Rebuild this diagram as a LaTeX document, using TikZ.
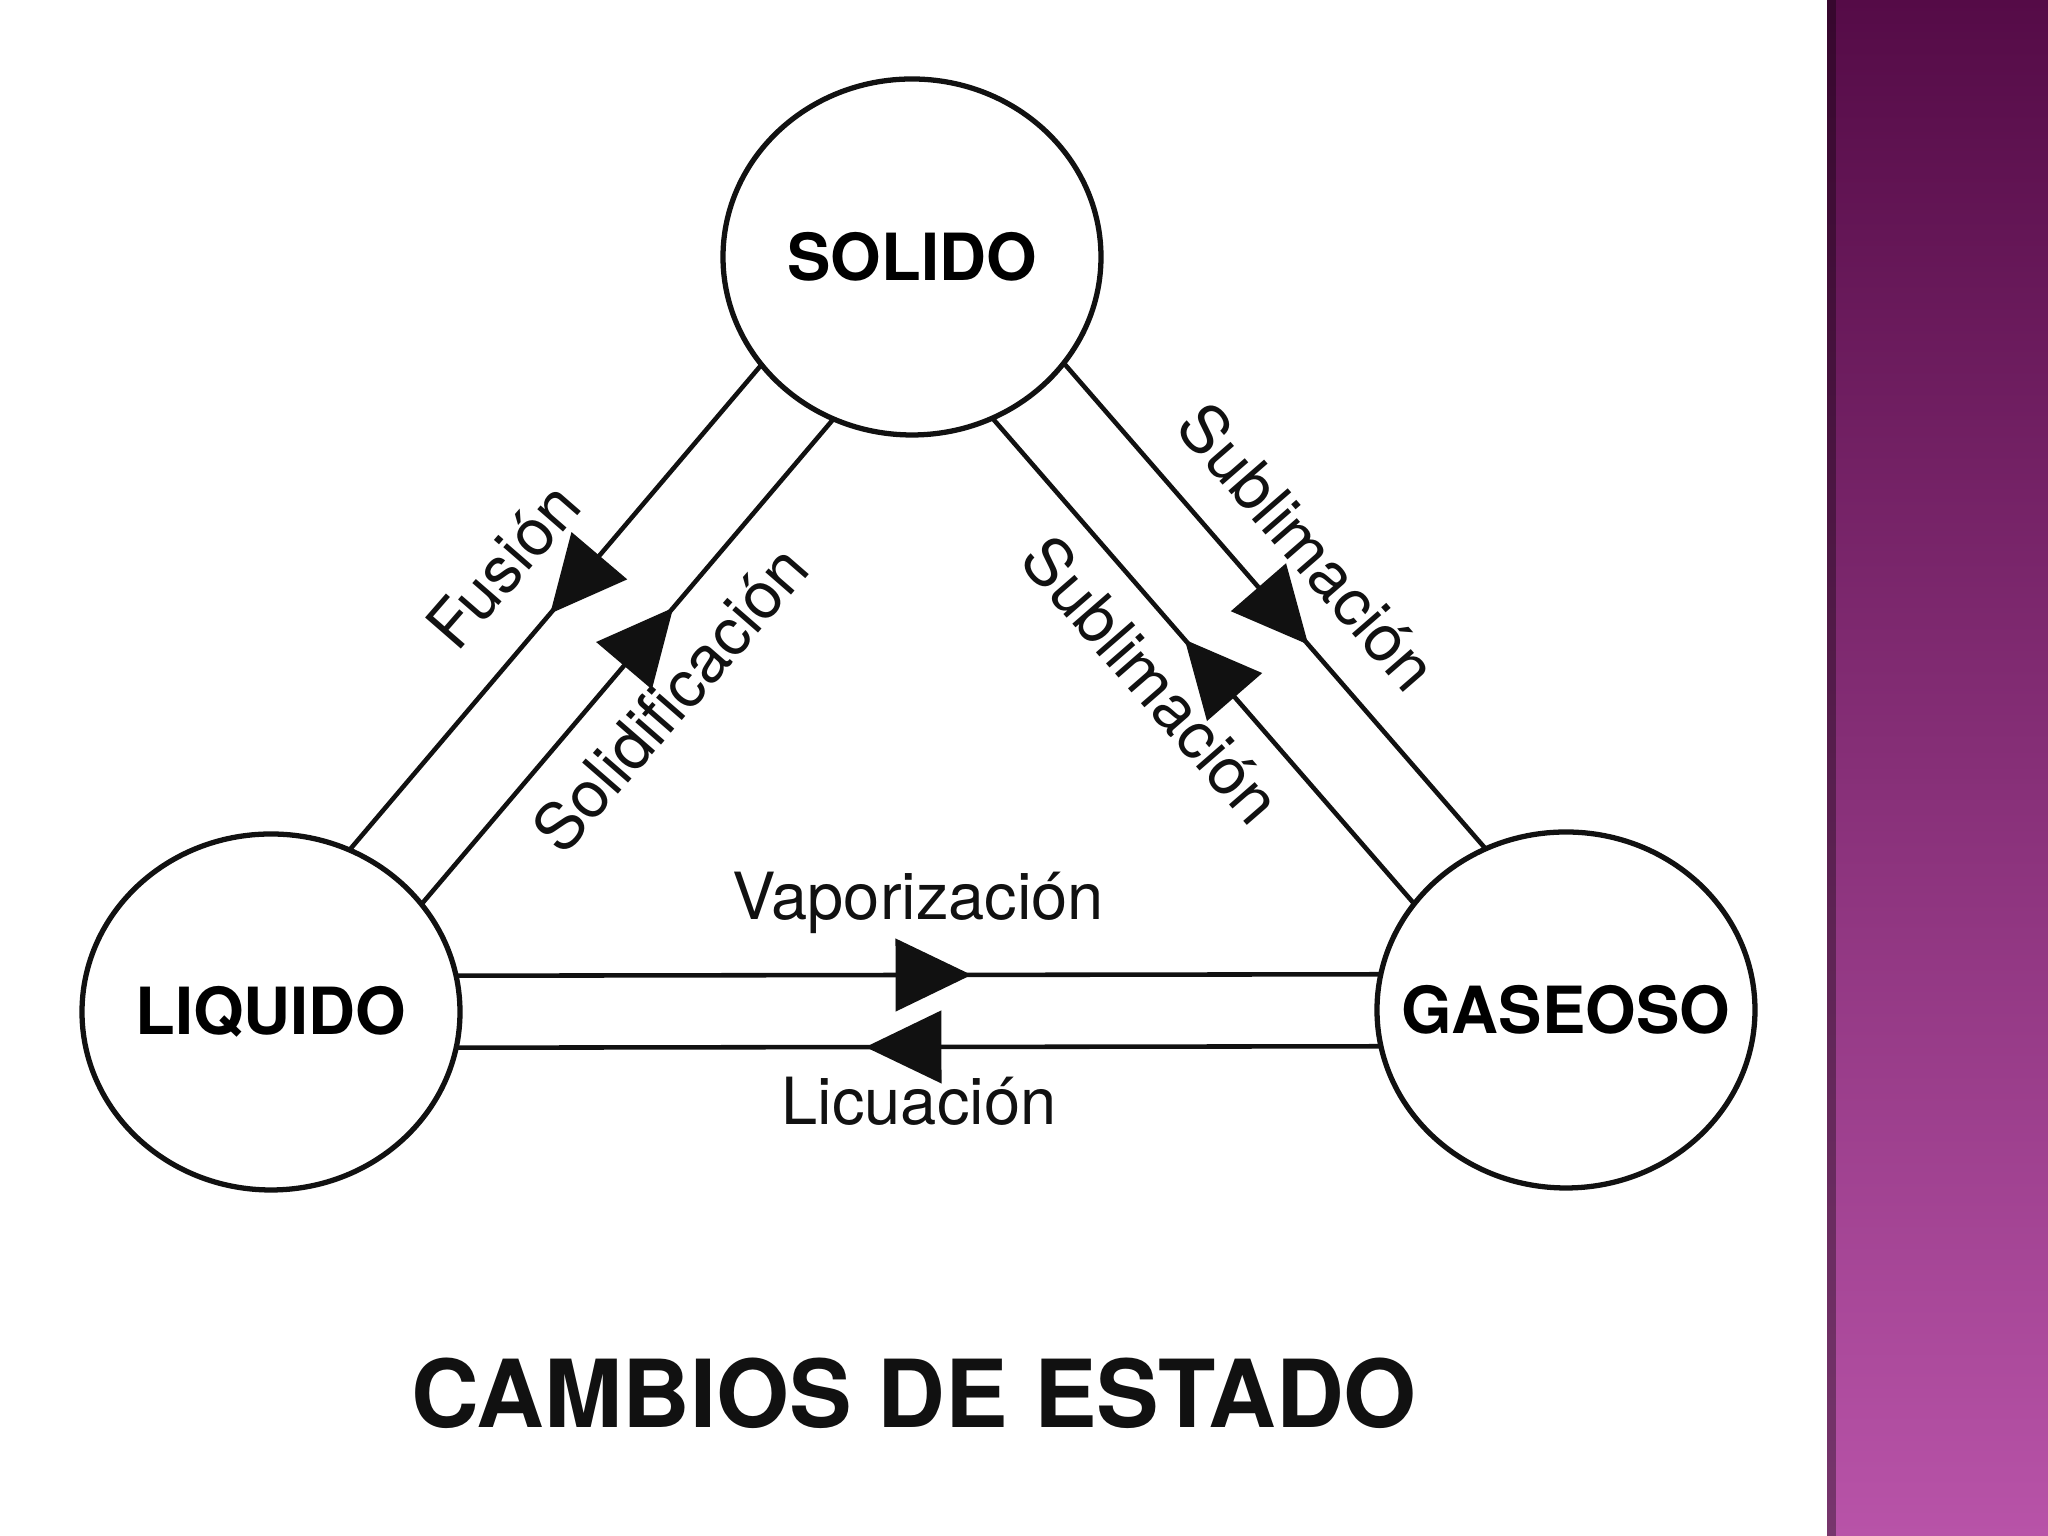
\documentclass[tikz,border=0pt]{standalone}
\usepackage{fontspec}
\setmainfont{TeX Gyre Heros}
\usepackage{xcolor}
\usetikzlibrary{arrows.meta,calc,shapes.geometric,decorations.markings,backgrounds}
\definecolor{ink}{HTML}{111111}
\definecolor{barratop}{HTML}{550B47}
\definecolor{barrabot}{HTML}{B853A8}
\tikzset{
  estado/.style={ellipse,draw=ink,fill=white,line width=1.5pt,
                 minimum width=3.78cm,minimum height=3.56cm,inner sep=0pt,
                 font=\fontsize{18.5}{20}\selectfont\bfseries},
  tubo/.style={draw=ink,line width=1.3pt},
  flecha/.style={postaction={decorate},
                 decoration={markings,mark=at position #1 with
                   {\arrow{Triangle[length=7.6mm,width=7.2mm]}}}},
  rotulo/.style={font=\fontsize{18.5}{20}\selectfont,text=ink,inner sep=0pt}
}

\begin{document}
\begin{tikzpicture}[x=1cm,y=1cm]
    \useasboundingbox (0,0) rectangle (20.48,15.36);
    % barra lateral
    \shade[top color=barratop,bottom color=barrabot] (18.27,0) rectangle (20.48,15.36);
    \fill[black,opacity=0.35] (18.27,0) rectangle (18.36,15.36);

    \node[estado] (sol) at (9.12,12.79) {\makebox[0pt]{SOLIDO}};
    \node[estado] (liq) at (2.71,5.24) {\makebox[0pt]{LIQUIDO}};
    \node[estado] (gas) at (15.66,5.26) {\makebox[0pt]{GASEOSO}};

    \begin{scope}[on background layer]
      \fill[white] (0,0) rectangle (18.27,15.36);
      % solido - liquido
      \draw[tubo,flecha=0.511] ($(sol)!4.5mm!-90:(liq)$) -- ($(liq)!4.5mm!90:(sol)$);
      \draw[tubo,flecha=0.574] ($(liq)!4.5mm!-90:(sol)$) -- ($(sol)!4.5mm!90:(liq)$);
      % solido - gaseoso
      \draw[tubo,flecha=0.554] ($(sol)!4.5mm!90:(gas)$) -- ($(gas)!4.5mm!-90:(sol)$);
      \draw[tubo,flecha=0.531] ($(gas)!4.5mm!90:(sol)$) -- ($(sol)!4.5mm!-90:(gas)$);
      % liquido - gaseoso
      \draw[tubo,flecha=0.541] ($(liq)!3.6mm!90:(gas)$) -- ($(gas)!3.6mm!-90:(liq)$);
      \draw[tubo,flecha=0.541] ($(gas)!3.6mm!90:(liq)$) -- ($(liq)!3.6mm!-90:(gas)$);
    \end{scope}

    \node[rotulo,rotate=49] (fus) at (5.03,9.70) {Fusión};
    \node[rotulo,rotate=49] (solid) at (6.70,8.37) {Solidificación};
    \node[rotulo,rotate=-49] (subida) at (13.08,9.89) {Sublimación};
    \node[rotulo,rotate=-49] (subvuelta) at (11.52,8.56) {Sublimación};
    \node[rotulo,anchor=base] (vap) at (9.18,6.16) {Vaporización};
    \node[rotulo,anchor=base] (lic) at (9.19,4.11) {Licuación};

    \node[font=\fontsize{26.7}{30}\selectfont\bfseries,text=ink,anchor=base,
          inner sep=0pt] (titulo) at (9.14,1.08) {CAMBIOS DE ESTADO};
\end{tikzpicture}
\end{document}
